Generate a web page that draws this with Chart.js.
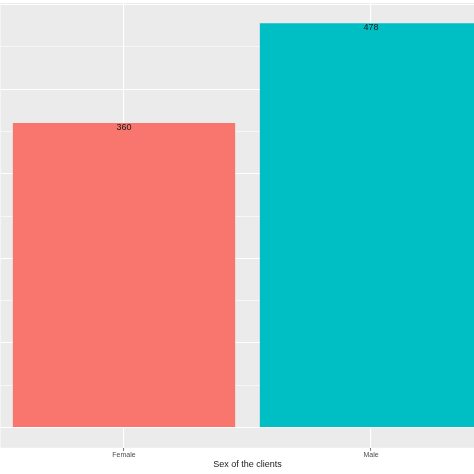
<!DOCTYPE html>
<html>
<head>
<meta charset="utf-8">
<script src="https://cdn.jsdelivr.net/npm/chart.js@4/dist/chart.umd.min.js"></script>
<style>
  html, body { margin: 0; padding: 0; background: #ffffff; overflow: hidden; }
  #wrap { position: relative; width: 474px; height: 474px; overflow: hidden; }
  canvas { position: absolute; left: 0; top: 0; }
</style>
</head>
<body>
<div id="wrap"><canvas id="c" width="495" height="474"></canvas></div>
<script>
const categories = ["Female", "Male"];
const counts = [360, 478];
const axisTitle = "Sex of the clients";

const barColors = ["#F8766D", "#00BFC4"];
const yMin = -0.05 * Math.max(...counts);
const yMax = Math.max(...counts) * 1.05;

const panelBg = {
  id: 'panelBg',
  beforeDraw(chart) {
    const { ctx, chartArea: a } = chart;
    ctx.save();
    ctx.fillStyle = '#EBEBEB';
    ctx.fillRect(a.left, a.top, a.right - a.left, a.bottom - a.top);
    ctx.restore();
  }
};

const barLabels = {
  id: 'barLabels',
  afterDatasetsDraw(chart) {
    const { ctx } = chart;
    const meta = chart.getDatasetMeta(0);
    ctx.save();
    ctx.font = '9px "Liberation Sans", Arial, sans-serif';
    ctx.fillStyle = '#1a1a1a';
    ctx.textAlign = 'center';
    ctx.textBaseline = 'middle';
    meta.data.forEach((bar, i) => {
      ctx.fillText(String(counts[i]), bar.x, bar.y + 4);
    });
    ctx.restore();
  }
};

new Chart(document.getElementById('c'), {
  type: 'bar',
  data: {
    labels: categories,
    datasets: [{
      data: counts,
      backgroundColor: barColors,
      borderWidth: 0,
      barPercentage: 0.9,
      categoryPercentage: 1.0
    }]
  },
  options: {
    responsive: false,
    animation: false,
    devicePixelRatio: 1,
    layout: { padding: { left: 0.5, right: 0.5, top: 3, bottom: 4 } },
    plugins: { legend: { display: false }, tooltip: { enabled: false } },
    scales: {
      x: {
        offset: true,
        grid: {
          offset: false,
          color: '#FFFFFF',
          lineWidth: 1.1,
          drawTicks: true,
          tickLength: 3,
          tickColor: '#4d4d4d',
          tickWidth: 0.8
        },
        border: { display: false },
        ticks: {
          padding: 0,
          color: '#4d4d4d',
          font: { family: '"Liberation Sans", Arial, sans-serif', size: 7 }
        },
        title: {
          display: true,
          text: axisTitle,
          color: '#1a1a1a',
          padding: { top: 0, bottom: 0 },
          font: { family: '"Liberation Sans", Arial, sans-serif', size: 9 }
        }
      },
      y: {
        display: true,
        min: yMin,
        max: yMax,
        border: { display: false },
        ticks: { display: false, stepSize: 50, includeBounds: false },
        grid: {
          drawTicks: false,
          color: '#FFFFFF',
          lineWidth: (c) => (c.tick && c.tick.value % 100 === 0) ? 1.1 : 0.55
        }
      }
    }
  },
  plugins: [panelBg, barLabels]
});
</script>
</body>
</html>
